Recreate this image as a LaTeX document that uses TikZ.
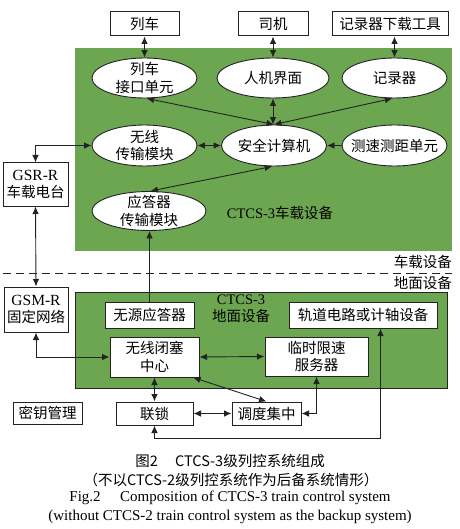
\documentclass[tikz,border=0pt]{standalone}
\usepackage{fontspec}
\setmainfont{Liberation Serif}
\newfontfamily\cjk{Noto Sans CJK SC}
\usetikzlibrary{shapes.geometric,arrows.meta}
\definecolor{grn}{RGB}{108,166,80}
\definecolor{ln}{RGB}{35,35,35}
\begin{document}
\begin{tikzpicture}[x=1pt,y=-1pt,
  ell/.style={ellipse,draw=ln,fill=white,line width=0.9pt,minimum width=105pt,minimum height=40pt,inner sep=0pt},
  box/.style={draw=ln,fill=white,line width=1pt,inner sep=0pt,font=\cjk\fontsize{14.5}{17.5}\selectfont,align=center},
  txt/.style={font=\cjk\fontsize{14.5}{17.5}\selectfont,align=center,inner sep=0pt},
  con/.style={draw=ln,line width=0.9pt},
  bi/.style={con,{Latex[length=7.5pt,width=6.5pt]}-{Latex[length=7.5pt,width=6.5pt]}},
  uni/.style={con,-{Latex[length=7.5pt,width=6.5pt]}},
  capt/.style={inner sep=0pt,font=\cjk\fontsize{14.5}{16}\selectfont},
  ecapt/.style={inner sep=0pt,font=\fontsize{15}{16}\selectfont},
]
\useasboundingbox (0,0) rectangle (459,529);
% regions
\fill[grn] (75,48) rectangle (452,251);
\fill[grn,draw=ln,line width=1pt] (75,292) rectangle (447,388);
\draw[ln,line width=0.8pt,dash pattern=on 8pt off 5pt] (3,273) -- (452,273);
\node[txt,anchor=east] (cz) at (452,262) {车载设备};
\node[txt,anchor=east] (dm) at (452,283) {地面设备};
\node[txt] (cz3) at (280,213) {{\rmfamily CTCS-3}车载设备};
\node[txt] (dm3) at (241,309) {{\rmfamily CTCS-3}\\地面设备};

% top boxes
\node[box,minimum width=69pt,minimum height=24pt] (lieche) at (144.5,24) {列车};
\node[box,minimum width=70pt,minimum height=24pt] (siji) at (273,24) {司机};
\node[box,minimum width=116pt,minimum height=24pt] (jlxz) at (390,24) {记录器下载工具};

% ellipses
\node[ell,label={[txt]center:{列车\\接口单元}}] (lcjk) at (144.5,78) {};
\node[ell,minimum width=112pt,label={[txt]center:{人机界面}}] (rjjm) at (273,78) {};
\node[ell,label={[txt]center:{记录器}}] (jlq) at (394.5,78) {};
\node[ell,minimum height=41pt,label={[txt]center:{无线\\传输模块}}] (wxcs) at (144.5,145.5) {};
\node[ell,minimum height=41pt,label={[txt]center:{安全计算机}}] (aq) at (274,145.5) {};
\node[ell,minimum height=41pt,label={[txt]center:{测速测距单元}}] (cs) at (394.5,145.5) {};
\node[ell,minimum width=114pt,minimum height=39pt,label={[txt]center:{应答器\\传输模块}}] (ydm) at (149,211) {};

% left boxes
\node[box,minimum width=65pt,minimum height=43pt] (gsr) at (35.5,184.5) {{\rmfamily\fontsize{15.5}{17.5}\selectfont GSR-R}\\车载电台};
\node[box,minimum width=64pt,minimum height=45pt] (gsm) at (36,309.5) {{\rmfamily\fontsize{15.5}{17.5}\selectfont GSM-R}\\固定网络};

% ground boxes
\node[box,minimum width=89pt,minimum height=26pt] (wy) at (149.5,315) {无源应答器};
\node[box,minimum width=148pt,minimum height=26pt] (gd) at (363,315) {轨道电路或计轴设备};
\node[box,minimum width=89pt,minimum height=40pt] (rbc) at (154.5,357) {无线闭塞\\中心};
\node[box,minimum width=103pt,minimum height=39pt] (tsr) at (316.5,356.5) {临时限速\\服务器};
\node[box,minimum width=77pt,minimum height=23pt] (ls) at (154.5,413.5) {联锁};
\node[box,minimum width=69pt,minimum height=23pt] (ctc) at (266.5,413.5) {调度集中};
\node[box,minimum width=69pt,minimum height=22pt] (my) at (47.5,413) {密钥管理};

% on-board connectors
\draw[bi] (lieche.south) -- (lcjk.north);
\draw[bi] (siji.south) -- (rjjm.north);
\draw[bi] (jlxz.south -| jlq.north) -- (jlq.north);
\draw[bi] (rjjm.south) -- (rjjm.south |- aq.north);
\draw[bi] (aq.north) -- (lcjk.-84);
\draw[bi] (aq.north) -- (jlq.-96);
\draw[bi] (wxcs.east) -- (aq.west);
\draw[uni] (cs.west) -- (aq.east);
\draw[bi] (aq.-95) -- (ydm.86);
\draw[bi] (gsr.north) |- (wxcs.west);
\draw[bi] (gsr.south) -- (gsm.north);
\draw[bi] (gsm.south) |- (rbc.west);
\draw[uni] (wy.north) -- (wy.north |- ydm.south);

% ground connectors
\draw[bi] (rbc.east) -- (tsr.west);
\draw[bi] (rbc.south) -- (ls.north);
\draw[bi] (rbc.-28) -- (ctc.north);
\draw[bi] (ls.east) -- (ctc.west);
\draw[bi] (tsr.south) |- (ctc.east);
\coordinate (c1) at (154.5,438);
\coordinate (c2) at (380.5,438);
\draw[bi] (ls.south) -- (c1) -- (c2) -- (c2 |- gd.south);

% caption
\node[capt] (t1) at (230,461) {图2\hspace{1.2em}CTCS-3级列控系统组成};
\node[capt] (t2) at (231,480) {（不以CTCS-2级列控系统作为后备系统情形）};
\node[ecapt] (t3) at (230,498) {Fig.2\hspace{1.3em}Composition of CTCS-3 train control system};
\node[ecapt] (t4) at (230,517) {(without CTCS-2 train control system as the backup system)};
\end{tikzpicture}
\end{document}
